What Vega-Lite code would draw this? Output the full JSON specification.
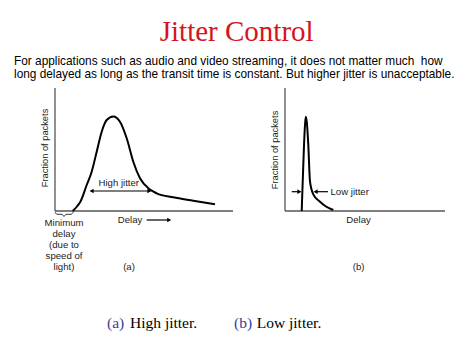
{
  "$schema": "https://vega.github.io/schema/vega-lite/v6.json",
  "width": 474,
  "height": 355,
  "autosize": {"type": "fit", "contains": "padding"},
  "padding": 0,
  "background": "white",
  "config": {"view": {"stroke": null}},
  "datasets": {
    "axes": [
      {"panel": "a", "x": 55, "y": 88, "x2": 55, "y2": 211},
      {"panel": "a", "x": 55, "y": 211, "x2": 233, "y2": 211},
      {"panel": "b", "x": 285, "y": 88, "x2": 285, "y2": 211},
      {"panel": "b", "x": 285, "y": 211, "x2": 445, "y2": 211}
    ],
    "curves": [
      {"id": "a", "i": 1, "x": 72.7, "y": 211},
      {"id": "a", "i": 2, "x": 77, "y": 206.5},
      {"id": "a", "i": 3, "x": 80.5, "y": 201.5},
      {"id": "a", "i": 4, "x": 86.7, "y": 185},
      {"id": "a", "i": 5, "x": 91.7, "y": 171.7},
      {"id": "a", "i": 6, "x": 96.7, "y": 151.7},
      {"id": "a", "i": 7, "x": 101.7, "y": 131.7},
      {"id": "a", "i": 8, "x": 106.7, "y": 120},
      {"id": "a", "i": 9, "x": 113.3, "y": 116.5},
      {"id": "a", "i": 10, "x": 120, "y": 121.7},
      {"id": "a", "i": 11, "x": 126.7, "y": 138.3},
      {"id": "a", "i": 12, "x": 133.3, "y": 161.7},
      {"id": "a", "i": 13, "x": 140, "y": 178.3},
      {"id": "a", "i": 14, "x": 150, "y": 189.5},
      {"id": "a", "i": 15, "x": 156.7, "y": 193.3},
      {"id": "a", "i": 16, "x": 173.3, "y": 197.3},
      {"id": "a", "i": 17, "x": 193.3, "y": 200.7},
      {"id": "a", "i": 18, "x": 215, "y": 204.3},
      {"id": "b", "i": 1, "x": 301.7, "y": 211},
      {"id": "b", "i": 2, "x": 303.3, "y": 165},
      {"id": "b", "i": 3, "x": 304.7, "y": 130},
      {"id": "b", "i": 4, "x": 305.7, "y": 116.7},
      {"id": "b", "i": 5, "x": 306.8, "y": 122},
      {"id": "b", "i": 6, "x": 308.3, "y": 145},
      {"id": "b", "i": 7, "x": 310, "y": 181.7},
      {"id": "b", "i": 8, "x": 313.3, "y": 194.3},
      {"id": "b", "i": 9, "x": 320, "y": 201.7},
      {"id": "b", "i": 10, "x": 326, "y": 206.5},
      {"id": "b", "i": 11, "x": 333.3, "y": 210}
    ],
    "brace": [
      {"i": 1, "x": 55, "y": 212},
      {"i": 2, "x": 57, "y": 214.3},
      {"i": 3, "x": 62, "y": 214.3},
      {"i": 4, "x": 64, "y": 216.5},
      {"i": 5, "x": 66, "y": 214.3},
      {"i": 6, "x": 71, "y": 214.3},
      {"i": 7, "x": 73.3, "y": 212}
    ],
    "shafts": [
      {"what": "high jitter", "x": 91, "y": 191, "x2": 150, "y2": 191},
      {"what": "delay", "x": 146.7, "y": 220, "x2": 168, "y2": 220},
      {"what": "low jitter left", "x": 291.7, "y": 191.7, "x2": 299, "y2": 191.7},
      {"what": "low jitter right", "x": 315.5, "y": 191.7, "x2": 328, "y2": 191.7}
    ],
    "headsRight": [
      {"what": "high jitter", "x": 149.4, "y": 191},
      {"what": "delay", "x": 169.2, "y": 220},
      {"what": "low jitter", "x": 299.4, "y": 191.7}
    ],
    "headsLeft": [
      {"what": "high jitter", "x": 91.6, "y": 191},
      {"what": "low jitter", "x": 315.6, "y": 191.7}
    ],
    "yTitles": [
      {"text": "Fraction of packets", "x": 45, "y": 148},
      {"text": "Fraction of packets", "x": 275, "y": 150}
    ],
    "labels": [
      {"text": "High jitter", "x": 118.8, "y": 183.3},
      {"text": "Delay", "x": 130, "y": 219.5},
      {"text": "Delay", "x": 358.5, "y": 219.5},
      {"text": "Minimum", "x": 64, "y": 223.3},
      {"text": "delay", "x": 64, "y": 234.3},
      {"text": "(due to", "x": 64, "y": 245},
      {"text": "speed of", "x": 64, "y": 255.7},
      {"text": "light)", "x": 64, "y": 266.7},
      {"text": "(a)", "x": 129, "y": 266.7},
      {"text": "(b)", "x": 358.7, "y": 266.7}
    ],
    "labelsLeft": [
      {"text": "Low jitter", "x": 330.5, "y": 191.7}
    ],
    "title": [
      {"text": "Jitter Control", "x": 236.7, "y": 40.7}
    ],
    "paragraph": [
      {"text": "For applications such as audio and video streaming, it does not matter much \u00a0how", "x": 14, "y": 65},
      {"text": "long delayed as long as the transit time is constant. But higher jitter is unacceptable.", "x": 14, "y": 77.7}
    ],
    "captionBlue": [
      {"text": "(a)", "x": 107, "y": 328.3},
      {"text": "(b)", "x": 234, "y": 328.3}
    ],
    "captionBlack": [
      {"text": "High jitter.", "x": 130, "y": 328.3},
      {"text": "Low jitter.", "x": 256.7, "y": 328.3}
    ]
  },
  "layer": [
    {
      "data": {"name": "axes"},
      "mark": {"type": "rule", "color": "#555555", "strokeWidth": 1.3},
      "encoding": {
        "x": {"field": "x", "type": "quantitative", "scale": {"domain": [0, 474], "nice": false, "zero": false}, "axis": null},
        "y": {"field": "y", "type": "quantitative", "scale": {"domain": [0, 355], "nice": false, "zero": false, "reverse": true}, "axis": null},
        "x2": {"field": "x2"},
        "y2": {"field": "y2"}
      }
    },
    {
      "data": {"name": "curves"},
      "mark": {"type": "line", "color": "black", "strokeWidth": 2, "interpolate": "monotone"},
      "encoding": {
        "x": {"field": "x", "type": "quantitative"},
        "y": {"field": "y", "type": "quantitative"},
        "detail": {"field": "id"},
        "order": {"field": "i", "type": "quantitative"}
      }
    },
    {
      "data": {"name": "brace"},
      "mark": {"type": "line", "color": "#333333", "strokeWidth": 1, "interpolate": "monotone"},
      "encoding": {
        "x": {"field": "x", "type": "quantitative"},
        "y": {"field": "y", "type": "quantitative"},
        "order": {"field": "i", "type": "quantitative"}
      }
    },
    {
      "data": {"name": "shafts"},
      "mark": {"type": "rule", "color": "black", "strokeWidth": 1.2},
      "encoding": {
        "x": {"field": "x", "type": "quantitative"},
        "y": {"field": "y", "type": "quantitative"},
        "x2": {"field": "x2"},
        "y2": {"field": "y2"}
      }
    },
    {
      "data": {"name": "headsRight"},
      "mark": {"type": "point", "shape": "triangle-right", "filled": true, "color": "black", "size": 22, "opacity": 1},
      "encoding": {
        "x": {"field": "x", "type": "quantitative"},
        "y": {"field": "y", "type": "quantitative"}
      }
    },
    {
      "data": {"name": "headsLeft"},
      "mark": {"type": "point", "shape": "triangle-left", "filled": true, "color": "black", "size": 22, "opacity": 1},
      "encoding": {
        "x": {"field": "x", "type": "quantitative"},
        "y": {"field": "y", "type": "quantitative"}
      }
    },
    {
      "data": {"name": "yTitles"},
      "mark": {"type": "text", "angle": 270, "align": "center", "baseline": "middle", "font": "Liberation Sans", "fontSize": 9.3, "color": "#222222"},
      "encoding": {
        "x": {"field": "x", "type": "quantitative"},
        "y": {"field": "y", "type": "quantitative"},
        "text": {"field": "text"}
      }
    },
    {
      "data": {"name": "labels"},
      "mark": {"type": "text", "align": "center", "baseline": "middle", "font": "Liberation Sans", "fontSize": 9.6, "color": "#222222"},
      "encoding": {
        "x": {"field": "x", "type": "quantitative"},
        "y": {"field": "y", "type": "quantitative"},
        "text": {"field": "text"}
      }
    },
    {
      "data": {"name": "labelsLeft"},
      "mark": {"type": "text", "align": "left", "baseline": "middle", "font": "Liberation Sans", "fontSize": 9.6, "color": "#222222"},
      "encoding": {
        "x": {"field": "x", "type": "quantitative"},
        "y": {"field": "y", "type": "quantitative"},
        "text": {"field": "text"}
      }
    },
    {
      "data": {"name": "title"},
      "mark": {"type": "text", "align": "center", "baseline": "alphabetic", "font": "Liberation Serif", "fontSize": 29, "color": "#d4141c"},
      "encoding": {
        "x": {"field": "x", "type": "quantitative"},
        "y": {"field": "y", "type": "quantitative"},
        "text": {"field": "text"}
      }
    },
    {
      "data": {"name": "paragraph"},
      "mark": {"type": "text", "align": "left", "baseline": "alphabetic", "font": "Liberation Sans", "fontSize": 11.85, "color": "black"},
      "encoding": {
        "x": {"field": "x", "type": "quantitative"},
        "y": {"field": "y", "type": "quantitative"},
        "text": {"field": "text"}
      }
    },
    {
      "data": {"name": "captionBlue"},
      "mark": {"type": "text", "align": "left", "baseline": "alphabetic", "font": "Liberation Serif", "fontSize": 15.5, "color": "#3c3c9a"},
      "encoding": {
        "x": {"field": "x", "type": "quantitative"},
        "y": {"field": "y", "type": "quantitative"},
        "text": {"field": "text"}
      }
    },
    {
      "data": {"name": "captionBlack"},
      "mark": {"type": "text", "align": "left", "baseline": "alphabetic", "font": "Liberation Serif", "fontSize": 15.5, "color": "black"},
      "encoding": {
        "x": {"field": "x", "type": "quantitative"},
        "y": {"field": "y", "type": "quantitative"},
        "text": {"field": "text"}
      }
    }
  ]
}
